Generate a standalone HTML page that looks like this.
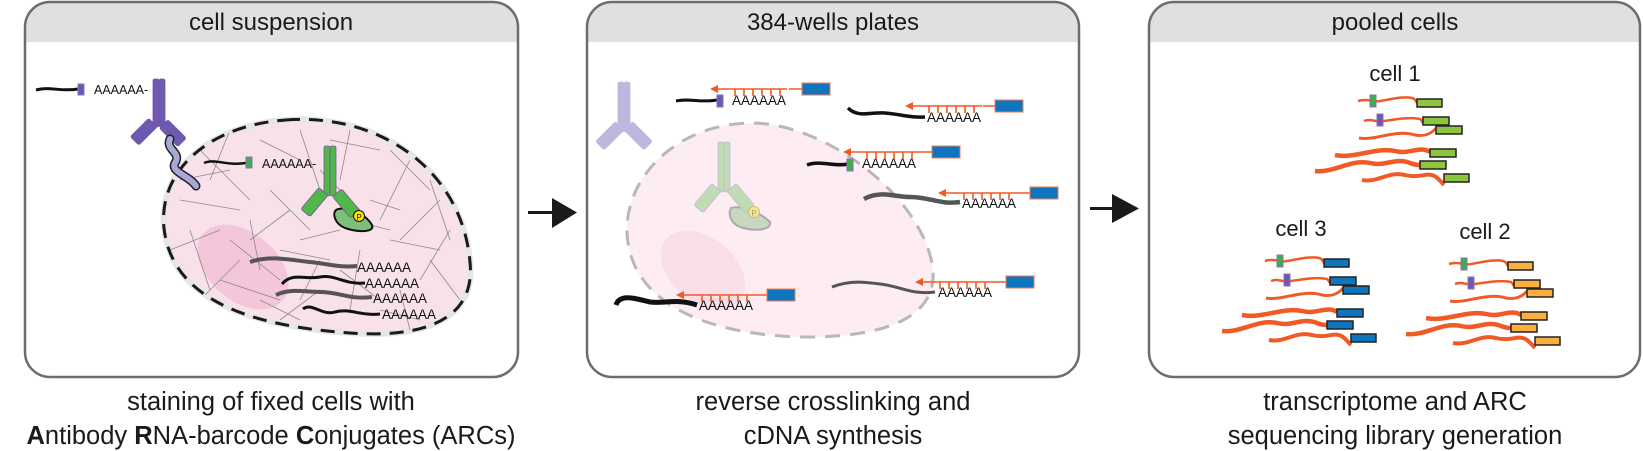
<!DOCTYPE html>
<html><head><meta charset="utf-8"><style>
html,body{margin:0;padding:0;background:#fff;}
svg{display:block;font-family:"Liberation Sans",Arial,sans-serif;}
</style></head><body>
<svg width="1643" height="451" viewBox="0 0 1643 451" xmlns="http://www.w3.org/2000/svg">
<defs>
<clipPath id="c1"><path d="M286 120 C380 113 462 170 470 262 C476 322 420 338 350 333 C250 326 172 300 164 228 C158 170 210 125 286 120 Z"/></clipPath>
</defs>

<!-- Panels -->
<g stroke="#6d6d6d" stroke-width="2.5">
  <path d="M25 376 L25 27 Q25 2 50 2 L493 2 Q518 2 518 27 L518 42 L25 42 Z" fill="#e0e0e0" stroke="none"/>
  <rect x="25" y="2" width="493" height="375" rx="25" fill="none"/>
  <path d="M587 42 L587 27 Q587 2 612 2 L1054 2 Q1079 2 1079 27 L1079 42 Z" fill="#e0e0e0" stroke="none"/>
  <rect x="587" y="2" width="492" height="375" rx="25" fill="none"/>
  <path d="M1149 42 L1149 27 Q1149 2 1174 2 L1615 2 Q1640 2 1640 27 L1640 42 Z" fill="#e0e0e0" stroke="none"/>
  <rect x="1149" y="2" width="491" height="375" rx="25" fill="none"/>
</g>
<g font-size="24" fill="#1a1a1a" text-anchor="middle">
  <text x="271" y="30">cell suspension</text>
  <text x="833" y="30">384-wells plates</text>
  <text x="1395" y="30">pooled cells</text>
</g>
<g font-size="25.5" fill="#1a1a1a" text-anchor="middle">
  <text x="271" y="410">staining of fixed cells with</text>
  <text x="271" y="444"><tspan font-weight="bold">A</tspan>ntibody <tspan font-weight="bold">R</tspan>NA-barcode <tspan font-weight="bold">C</tspan>onjugates (ARCs)</text>
  <text x="833" y="410">reverse crosslinking and</text>
  <text x="833" y="444">cDNA synthesis</text>
  <text x="1395" y="410">transcriptome and ARC</text>
  <text x="1395" y="444">sequencing library generation</text>
</g>

<!-- Arrows -->
<g fill="#1a1a1a">
  <rect x="528" y="211" width="26" height="3"/>
  <polygon points="552,198 577,212.5 552,228"/>
  <rect x="1090" y="207" width="24" height="3"/>
  <polygon points="1112,194 1139,208.5 1112,223"/>
</g>

<!-- PANEL 1 -->
<path d="M286 120 C380 113 462 170 470 262 C476 322 420 338 350 333 C250 326 172 300 164 228 C158 170 210 125 286 120 Z" fill="#f9e1ea" stroke="#e6e6e6" stroke-width="6"/>
<g clip-path="url(#c1)">
  <ellipse cx="243" cy="267" rx="52" ry="34" transform="rotate(40 243 267)" fill="#f3c6da"/>
  <g stroke="#8a8a8a" stroke-width="0.8">
    <path d="M200 150 L250 200 M230 130 L210 180 M260 140 L300 160 M300 130 L320 190 M330 140 L380 150 M350 130 L340 180 M390 150 L430 190 M410 160 L380 220 M440 200 L400 240 M450 230 L420 280 M430 260 L460 300 M390 240 L440 250 M370 200 L400 210"/>
    <path d="M180 200 L240 210 M170 250 L220 230 M190 230 L210 290 M230 240 L280 280 M250 220 L260 270 M270 190 L310 230 M290 210 L250 240 M300 240 L340 230 M320 260 L300 300 M340 270 L380 300 M360 250 L350 310 M200 300 L240 260 M220 280 L280 300 M260 300 L300 320 M280 320 L320 290 M380 310 L420 320 M400 290 L410 330 M430 180 L450 240 M180 180 L230 170 M320 170 L360 210 M280 250 L330 260 M350 220 L390 230"/>
  </g>
</g>
<path d="M286 120 C380 113 462 170 470 262 C476 322 420 338 350 333 C250 326 172 300 164 228 C158 170 210 125 286 120 Z" fill="none" stroke="#1a1a1a" stroke-width="3" stroke-dasharray="14 9"/>
<!-- purple ARC -->
<path d="M36 90 C50 86 60 92 78 89" stroke="#111" stroke-width="3" fill="none"/>
<rect x="78" y="84" width="6" height="11" fill="#6a5bb0" stroke="#8e6fbf"/>
<text x="94" y="94" font-size="12.5" fill="#111">AAAAAA-</text>
<g fill="#6a5bb0" stroke="#7e4fa8" stroke-width="0.8">
  <rect x="153" y="79" width="6" height="48" rx="2"/><rect x="159" y="79" width="6" height="48" rx="2"/>
  <rect x="136" y="123" width="12" height="26" rx="2" transform="rotate(45 148 136)"/>
  <rect x="168" y="123" width="12" height="26" rx="2" transform="rotate(-45 170 136)"/>
</g>
<path d="M170 139 C165 150 182 152 175 163 C170 172 190 176 196 186" stroke="#222" stroke-width="9" fill="none" stroke-linecap="round"/>
<path d="M170 139 C165 150 182 152 175 163 C170 172 190 176 196 186" stroke="#a8a8d8" stroke-width="6" fill="none" stroke-linecap="round"/>
<!-- green ARC -->
<path d="M204 163 C215 158 225 166 246 163" stroke="#111" stroke-width="2.5" fill="none"/>
<rect x="246" y="157" width="6" height="11" fill="#3fae49" stroke="#8e6fbf"/>
<text x="262" y="168" font-size="12.5" fill="#111">AAAAAA-</text>
<path d="M336 210 C345 205 365 213 372 225 C375 232 360 233 345 228 C335 224 332 214 336 210 Z" fill="#7dbf7d" stroke="#111" stroke-width="2"/>
<g fill="#4fb848" stroke="#7e4fa8" stroke-width="0.8">
  <rect x="324" y="146" width="6" height="50" rx="2"/><rect x="330" y="146" width="6" height="50" rx="2"/>
  <rect x="307" y="192" width="12" height="28" rx="2" transform="rotate(40 319 206)"/>
  <rect x="341" y="192" width="12" height="28" rx="2" transform="rotate(-40 343 206)"/>
</g>
<circle cx="359" cy="216" r="5.5" fill="#ffe600" stroke="#111" stroke-width="1"/>
<text x="359" y="220" font-size="8" text-anchor="middle" fill="#111">P</text>
<!-- mRNAs -->
<g fill="none">
  <path d="M250 262 C270 255 290 260 310 262 C330 264 340 268 357 266" stroke="#555" stroke-width="4"/>
  <path d="M282 284 C292 272 305 280 320 277 C335 274 345 285 365 283" stroke="#111" stroke-width="3"/>
  <path d="M276 295 C290 288 305 292 320 292 C340 292 350 300 372 297" stroke="#555" stroke-width="4"/>
  <path d="M303 309 C312 302 322 316 335 312 C350 308 360 316 380 314" stroke="#111" stroke-width="3"/>
</g>
<g font-size="13.5" fill="#111">
  <text x="357" y="272">AAAAAA</text><text x="365" y="288">AAAAAA</text>
  <text x="373" y="303">AAAAAA</text><text x="382" y="319">AAAAAA</text>
</g>

<!-- PANEL 2 -->
<path d="M754 123 C830 125 925 200 933 270 C937 320 880 338 800 337 C700 334 630 300 627 233 C625 175 680 122 754 123 Z" fill="#fdecf2" stroke="#b8b8b8" stroke-width="3" stroke-dasharray="15 10"/>
<ellipse cx="703" cy="270" rx="48" ry="32" transform="rotate(40 703 270)" fill="#f8d9e6" opacity="0.8"/>
<g fill="#bdb7de" stroke="#c8b4dc" stroke-width="0.8">
  <rect x="618" y="82" width="6" height="50" rx="2"/><rect x="624" y="82" width="6" height="50" rx="2"/>
  <rect x="602" y="126" width="12" height="28" rx="2" transform="rotate(45 614 140)"/>
  <rect x="634" y="126" width="12" height="28" rx="2" transform="rotate(-45 634 140)"/>
</g>
<path d="M731 208 C740 205 760 212 770 222 C772 230 755 232 740 227 C730 223 728 213 731 208 Z" fill="#c9d6c0" stroke="#aaa" stroke-width="2"/>
<g fill="#bfdcb5" stroke="#c6b8d8" stroke-width="0.8">
  <rect x="718" y="142" width="6" height="50" rx="2"/><rect x="724" y="142" width="6" height="50" rx="2"/>
  <rect x="700" y="188" width="12" height="28" rx="2" transform="rotate(40 712 202)"/>
  <rect x="736" y="188" width="12" height="28" rx="2" transform="rotate(-40 736 202)"/>
</g>
<circle cx="754" cy="212" r="5.5" fill="#f5e890" stroke="#c9c080"/>
<text x="754" y="216" font-size="8" text-anchor="middle" fill="#b0a060">P</text>
<g font-size="13.5" fill="#111">
  <path d="M676 101 C690 98 700 103 717 100" stroke="#111" stroke-width="3" fill="none"/>
  <rect x="717" y="95" width="6" height="12" fill="#6a5bb0" stroke="#8e6fbf"/>
  <text x="732" y="105">AAAAAA</text>
  <path d="M848 108 C858 118 870 112 885 113 C900 114 910 118 925 117" stroke="#111" stroke-width="3.5" fill="none"/>
  <text x="927" y="122">AAAAAA</text>
  <path d="M807 165 C820 160 835 167 848 164" stroke="#111" stroke-width="3.5" fill="none"/>
  <rect x="847" y="159" width="6" height="12" fill="#3fae49" stroke="#8e6fbf"/>
  <text x="862" y="168">AAAAAA</text>
  <path d="M864 199 C880 190 895 197 910 197 C930 197 940 205 960 202" stroke="#555" stroke-width="4.5" fill="none"/>
  <text x="962" y="208">AAAAAA</text>
  <path d="M832 287 C850 280 865 282 880 284 C900 286 910 295 935 292" stroke="#555" stroke-width="3" fill="none"/>
  <text x="938" y="297">AAAAAA</text>
  <path d="M616 305 C620 292 640 300 650 302 C665 304 675 298 697 305" stroke="#111" stroke-width="5" fill="none"/>
  <text x="699" y="310">AAAAAA</text>
</g>
<g stroke="#f15a24" stroke-width="1.6" fill="none">
  <path d="M717 89 L787 89 M735 89 v7 M744 89 v7 M753 89 v7 M762 89 v7 M771 89 v7 M780 89 v7 M789 89 L802 89"/>
  <path d="M912 106 L982 106 M929 106 v7 M938 106 v7 M947 106 v7 M956 106 v7 M965 106 v7 M974 106 v7 M983 106 L996 106"/>
  <path d="M850 152 L920 152 M867 152 v7 M876 152 v7 M885 152 v7 M894 152 v7 M903 152 v7 M912 152 v7 M920 152 L933 152"/>
  <path d="M945 193 L1015 193 M964 193 v7 M973 193 v7 M982 193 v7 M991 193 v7 M1000 193 v7 M1009 193 v7 M1015 193 L1030 193"/>
  <path d="M922 282 L992 282 M940 282 v7 M949 282 v7 M958 282 v7 M967 282 v7 M976 282 v7 M985 282 v7 M992 282 L1006 282"/>
  <path d="M683 295 L753 295 M702 295 v7 M711 295 v7 M720 295 v7 M729 295 v7 M738 295 v7 M747 295 v7 M753 295 L767 295"/>
</g>
<g fill="#f15a24">
  <polygon points="710,89 718,85 718,93"/><polygon points="905,106 913,102 913,110"/>
  <polygon points="843,152 851,148 851,156"/><polygon points="938,193 946,189 946,197"/>
  <polygon points="915,282 923,278 923,286"/><polygon points="676,295 684,291 684,299"/>
</g>
<g fill="#0f75bc" stroke="#f27a50" stroke-width="1">
  <rect x="802" y="83" width="28" height="12"/><rect x="995" y="100" width="28" height="12"/>
  <rect x="932" y="146" width="28" height="12"/><rect x="1030" y="187" width="28" height="12"/>
  <rect x="1006" y="276" width="28" height="12"/><rect x="767" y="289" width="28" height="12"/>
</g>

<!-- PANEL 3 -->
<g font-size="22" fill="#1a1a1a" text-anchor="middle">
  <text x="1395" y="81">cell 1</text>
  <text x="1301" y="236">cell 3</text>
  <text x="1485" y="239">cell 2</text>
</g>
<g id="strands">
  <g transform="translate(1370,95)">
    <path d="M-12 6 C-2 3 4 8 10 6 C22 4 34 1 42 3 C46 4 46 7 47 8" stroke="#f15a24" stroke-width="2.5" fill="none"/>
    <rect x="0" y="0" width="6" height="12" fill="#3fae49" stroke="#8e6fbf"/>
    <path d="M-6 26 C2 23 6 28 14 26 C28 24 40 22 50 24 C52 25 52 27 53 28" stroke="#f15a24" stroke-width="2.5" fill="none"/>
    <rect x="7" y="19" width="6" height="12" fill="#6a5bb0" stroke="#8e6fbf"/>
    <path d="M-11 43 C5 46 25 34 45 40 C55 42 62 38 66 33" stroke="#f15a24" stroke-width="3" fill="none"/>
    <path d="M-35 60 C-15 64 5 52 25 56 C40 60 50 50 60 57" stroke="#f15a24" stroke-width="4.5" fill="none"/>
    <path d="M-55 76 C-35 78 -20 64 0 68 C15 72 25 62 40 68 C45 70 48 70 50 70" stroke="#f15a24" stroke-width="4.5" fill="none"/>
    <path d="M-8 85 C8 88 18 76 35 80 C50 84 58 76 66 82 C70 85 72 88 74 90" stroke="#f15a24" stroke-width="4" fill="none"/>
  </g>
</g>
<use href="#strands" transform="translate(-93,160)"/>
<use href="#strands" transform="translate(91,163)"/>
<g stroke="#222" stroke-width="1.5">
  <g fill="#8cc63f">
    <rect x="1417" y="99" width="25" height="8"/><rect x="1423" y="117" width="26" height="8"/>
    <rect x="1436" y="126" width="26" height="8"/><rect x="1430" y="149" width="26" height="8"/>
    <rect x="1420" y="161" width="26" height="8"/><rect x="1444" y="174" width="25" height="8"/>
  </g>
  <g fill="#0f75bc" transform="translate(-93,160)">
    <rect x="1417" y="99" width="25" height="8"/><rect x="1423" y="117" width="26" height="8"/>
    <rect x="1436" y="126" width="26" height="8"/><rect x="1430" y="149" width="26" height="8"/>
    <rect x="1420" y="161" width="26" height="8"/><rect x="1444" y="174" width="25" height="8"/>
  </g>
  <g fill="#f9b040" transform="translate(91,163)">
    <rect x="1417" y="99" width="25" height="8"/><rect x="1423" y="117" width="26" height="8"/>
    <rect x="1436" y="126" width="26" height="8"/><rect x="1430" y="149" width="26" height="8"/>
    <rect x="1420" y="161" width="26" height="8"/><rect x="1444" y="174" width="25" height="8"/>
  </g>
</g>
</svg>
</body></html>
